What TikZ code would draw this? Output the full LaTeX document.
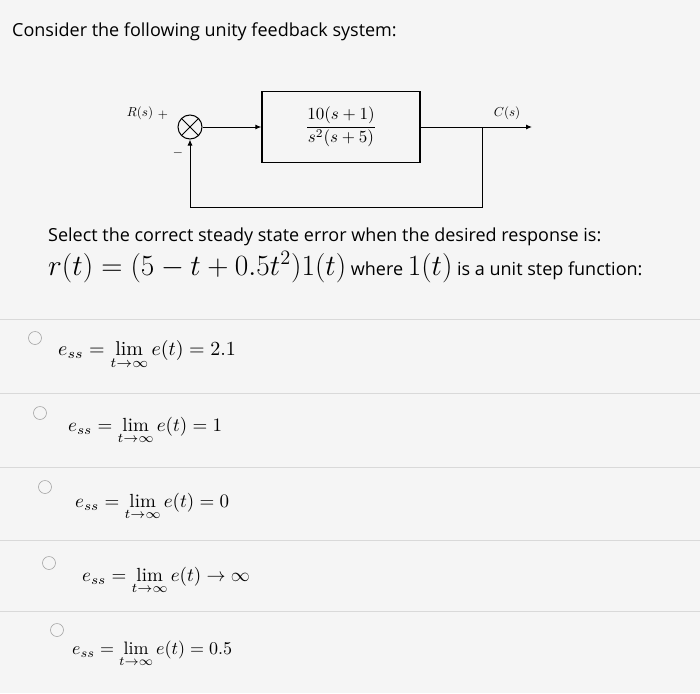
\documentclass[tikz,border=0pt]{standalone}
\usepackage{fontspec}
\setsansfont{Open Sans}
\usepackage{amsmath}
\usepackage{graphicx}
\usetikzlibrary{arrows.meta}
\newcommand{\scm}[2]{\scalebox{#1}{#2}}
\begin{document}
\begin{tikzpicture}[x=1pt,y=-1pt,
  txt/.style={font=\sffamily\fontsize{18}{22}\selectfont,anchor=west,inner sep=0},
  sep/.style={draw=gray!30,line width=1pt},
  radio/.style={circle,draw=gray!70,minimum size=13pt,inner sep=0,line width=0.6pt},
  opt/.style={anchor=west,inner sep=0},
  sig/.style={line width=1pt,-{Latex[length=6pt,width=5pt]}}]
\fill[gray!8] (0,0) rectangle (700,693);
\useasboundingbox (0,0) rectangle (700,693);
\node[txt] (title) at (12,32) {Consider the following unity feedback system:};
% block diagram
\node[circle,draw,line width=1pt,minimum size=24pt,inner sep=0] (sum) at (190,127) {};
\draw[line width=1pt] (sum.45)--(sum.225) (sum.135)--(sum.315);
\node (R) at (140,113) {\scm{1.3}{$R(s)$}};
\node (plus) at (163,115) {\scm{1.3}{$+$}};
\node (minus) at (178,153) {\scm{1.3}{$-$}};
\node[draw,line width=1.2pt,minimum width=158pt,minimum height=71pt] (G) at (341,127) {\scm{1.7}{$\dfrac{10(s+1)}{s^2(s+5)}$}};
\coordinate (out) at (532,127);
\coordinate (tap) at (482,127);
\coordinate (fb) at (482,207);
\coordinate (fb2) at (190,207);
\node (C) at (507,113) {\scm{1.3}{$C(s)$}};
\draw[sig] (sum) -- (G.west);
\draw[sig] (G.east) -- (out);
\draw[sig] (tap) -- (fb) -- (fb2) -- (sum.south);
% question
\node[txt] (q1) at (48,237) {Select the correct steady state error when the desired response is:};
\node[txt] (q2) at (48,267) {\scm{1.7}{$r(t)=(5-t+0.5t^2)1(t)$} where \scm{1.7}{$1(t)$} is a unit step function:};
% separators
\draw[sep] (0,319) -- (700,319);
\draw[sep] (0,393) -- (700,393);
\draw[sep] (0,467) -- (700,467);
\draw[sep] (0,540) -- (700,540);
\draw[sep] (0,611) -- (700,611);
% options
\node[radio] (r1) at (35,338) {};
\node[radio] (r2) at (40,413) {};
\node[radio] (r3) at (45,487) {};
\node[radio] (r4) at (49,563) {};
\node[radio] (r5) at (57,630) {};
\node[opt] (o1) at (58,355) {\scm{2}{$e_{ss}=\lim\limits_{t\to\infty}e(t)=2.1$}};
\node[opt] (o2) at (68,431) {\scm{1.9}{$e_{ss}=\lim\limits_{t\to\infty}e(t)=1$}};
\node[opt] (o3) at (75,507) {\scm{1.9}{$e_{ss}=\lim\limits_{t\to\infty}e(t)=0$}};
\node[opt] (o4) at (82,581) {\scm{1.9}{$e_{ss}=\lim\limits_{t\to\infty}e(t)\to\infty$}};
\node[opt] (o5) at (72,654) {\scm{1.8}{$e_{ss}=\lim\limits_{t\to\infty}e(t)=0.5$}};
\end{tikzpicture}
\end{document}
